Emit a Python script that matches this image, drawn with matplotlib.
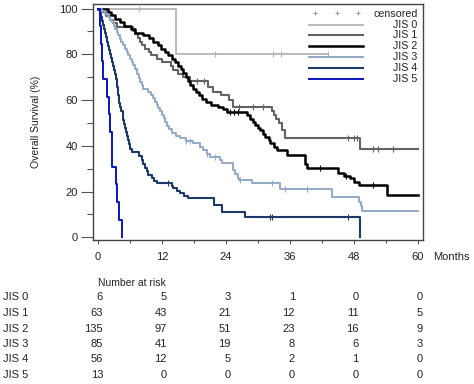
import numpy as np
import matplotlib.pyplot as plt
from matplotlib.transforms import blended_transform_factory

plt.rcParams['font.family'] = ['Liberation Sans', 'DejaVu Sans']

groups = ['JIS 0', 'JIS 1', 'JIS 2', 'JIS 3', 'JIS 4', 'JIS 5']
colors = ['#b4b4b4', '#636363', '#000000', '#93a9c6', '#1d3a66', '#0a14c0']
widths = [1.3, 1.5, 1.8, 1.4, 1.5, 1.4]

# Kaplan-Meier step points (time in months, survival in %)
jis0_t = [0, 14.6, 43.2]
jis0_s = [100, 80, 80]
jis0_c = [7.7, 22, 32.8, 34.4, 43.2]

jis1_t = [0, 1.0, 1.5, 2.2, 2.8, 3.5, 6.5, 7.0, 7.5, 7.9, 8.3, 8.8, 9.5, 10.0, 11.0,
          12.0, 13.6, 14.0, 15.1, 16.0, 17.3, 20.7, 21.5, 23.0, 24.5, 25.4, 32.6,
          33.0, 33.4, 33.9, 34.5, 35.1, 49.2, 60]
jis1_s = [100, 98.4, 96.8, 95.2, 93.6, 92.0, 90.4, 88.8, 87.2, 85.6, 84.0, 82.4, 81.0,
          79.6, 78.1, 76.7, 75.1, 73.3, 71.6, 70.1, 68.5, 65.5, 63.5, 62.0, 60.0, 57.0,
          55.0, 53.4, 51.6, 49.8, 46.8, 43.6, 38.8, 38.8]
jis1_c = [18.5, 19.8, 26.5, 29, 31, 47, 48, 48.6, 51.7, 52.6, 55.3]

jis2_t = [0, 1.8, 2.5, 3.2, 4.2, 4.8, 6.2, 7.0, 8.5, 9.5, 10.4, 11.2, 11.8, 12.6, 13.2,
          13.8, 14.5, 15.0, 15.5, 16.0, 16.5, 16.8, 17.3, 17.8, 18.3, 18.9, 19.5, 20.3,
          21.2, 22.5, 23.5, 24.2, 27.9, 28.5, 29.0, 29.5, 30.0, 30.4, 31.0, 31.4, 32.0,
          32.3, 33.0, 33.6, 35.4, 38.9, 39.2, 45.1, 46.2, 47.3, 48.0, 48.9, 54.2, 60]
jis2_s = [100, 98.5, 97, 95.5, 94, 92.5, 91, 89.5, 88.5, 87, 85.5, 84, 82.5, 81, 79.5,
          78, 76.5, 75, 73.5, 72, 70, 68.5, 66.5, 65, 63.5, 62, 60.5, 59.2,
          58, 57, 56, 54.8, 53.4, 51.9, 50.5, 49, 47.8, 46.8, 45.3, 43.9, 42.5,
          41, 39.5, 38.1, 35.9, 32, 30.5, 28, 27, 25.8, 24.3, 22.8, 18.5, 18.5]
jis2_c = [24.8, 25.5, 26.3, 41.7, 46.5, 51.7]

jis3_t = [0, 0.8, 1.3, 1.9, 2.3, 2.6, 2.9, 3.2, 3.5, 3.8, 4.1, 4.4, 4.75, 5.1, 5.4, 5.7,
          6.0, 6.3, 6.6, 7.0, 7.3, 7.6, 7.9, 8.2, 8.5, 9.45, 10.0, 10.4, 10.7, 11.0,
          11.3, 11.6, 12.0, 12.3, 12.6, 13.0, 13.4, 13.8, 14.6, 15.4, 16.6, 17.8, 19.2,
          19.7, 20.4, 21.0, 22.9, 23.2, 25.4, 25.8, 26.2, 26.4, 28.9, 34.2, 43.9, 48.9,
          49.3, 49.5, 60]
jis3_s = [100, 98.8, 97.6, 96.4, 95.2, 94, 92.5, 91, 89.8, 88.4, 86.9, 85.5, 84, 82.5,
          81.1, 79.6, 78.1, 76.6, 75.2, 73.4, 71.6, 69.8, 67.9, 66.5, 65, 63.6, 62.3,
          60.9, 59.3, 57.8, 56.4, 55, 53.5, 52, 50.3, 48.8, 47.2, 45.7, 44.4, 43.2, 41.9,
          41, 39.6, 38.1, 36.5, 35, 33.8, 32.3, 29.5, 27.5, 26, 25, 23.6, 21, 17.7, 15.5,
          13.5, 11.6, 11.6]
jis3_c = [16.6, 17.3, 20.4, 22, 26.7, 32.6, 35, 39.2]

jis4_t = [0, 0.3, 0.5, 0.7, 0.9, 1.1, 1.3, 1.5, 1.6, 1.8, 2.0, 2.2, 2.4, 2.6, 2.8, 2.9,
          3.1, 3.3, 3.5, 3.6, 3.7, 3.8, 3.9, 4.0, 4.2, 4.4, 4.6, 4.75, 4.9, 5.1, 5.3, 5.4,
          5.6, 5.8, 6.0, 6.3, 7.6, 8.2, 8.5, 8.8, 9.1, 9.45, 10.1, 10.5, 11.0, 13.8,
          14.1, 14.8, 15.4, 16.2, 16.9, 21.7, 23.2, 27.6, 49.2]
jis4_s = [100, 98.2, 96.4, 94.6, 92.8, 91, 89.2, 87.4, 85.6, 83.8, 82, 80.2, 78.4, 76.6,
          74.8, 73, 71.2, 69.4, 67.6, 65.8, 64, 62.2, 60.4, 58.6, 56.8, 55, 53.2, 51.4,
          49.6, 47.8, 46, 44.2, 42.4, 40.6, 38.8, 37.4, 35.6, 33.8, 32, 30.5, 29, 27.2,
          25.8, 24.6, 23.6, 22.4, 21.4, 20.2, 19.2, 18.1, 17, 14.1, 11.2, 8.7, 0]
jis4_c = [13.2, 32.3, 32.6, 47]

jis5_t = [0, 0.3, 0.6, 0.8, 1.0, 1.6, 2.0, 2.3, 2.6, 2.7, 3.3, 3.6, 3.9, 4.45]
jis5_s = [100, 92.3, 84.6, 76.9, 69.2, 61.5, 53.8, 46.2, 38.5, 30.8, 23.1, 15.4, 7.7, 0]
jis5_c = []

curve_t = [jis0_t, jis1_t, jis2_t, jis3_t, jis4_t, jis5_t]
curve_s = [jis0_s, jis1_s, jis2_s, jis3_s, jis4_s, jis5_s]
curve_c = [jis0_c, jis1_c, jis2_c, jis3_c, jis4_c, jis5_c]

risk_times = [0, 12, 24, 36, 48, 60]
risk_jis0 = [6, 5, 3, 1, 0, 0]
risk_jis1 = [63, 43, 21, 12, 11, 5]
risk_jis2 = [135, 97, 51, 23, 16, 9]
risk_jis3 = [85, 41, 19, 8, 6, 3]
risk_jis4 = [56, 12, 5, 2, 1, 0]
risk_jis5 = [13, 0, 0, 0, 0, 0]
risk = [risk_jis0, risk_jis1, risk_jis2, risk_jis3, risk_jis4, risk_jis5]

FS = 8
W, H = 474, 384
fig = plt.figure(figsize=(W / 100, H / 100), dpi=100)
ax = fig.add_axes([93 / W, 1 - 240 / H, 330 / W, 236 / H])

for t, s, c, col, lw in zip(curve_t, curve_s, curve_c, colors, widths):
    ax.step(t, s, where='post', color=col, lw=lw)
    if c:
        idx = np.searchsorted(t, c, side='right') - 1
        ax.plot(c, np.array(s)[idx], ls='none', marker='|', ms=4, mew=0.8, color=col)

ax.set_xlim(-0.95, 61)
ax.set_ylim(-1.2, 102)
ax.set_xticks(risk_times)
ax.set_xticks(np.arange(6, 60, 12), minor=True)
ax.set_yticks(np.arange(0, 101, 20))
ax.set_yticks(np.arange(10, 100, 20), minor=True)
ax.tick_params(axis='y', which='major', length=9, width=0.8, colors='#555555',
               labelcolor='#222222', labelsize=FS, pad=2)
ax.tick_params(axis='y', which='minor', length=4.5, width=0.8, colors='#555555')
ax.tick_params(axis='x', which='major', length=3, width=0.8, colors='#555555',
               labelcolor='#222222', labelsize=FS, pad=5.5)
ax.tick_params(axis='x', which='minor', length=2.5, width=0.8, colors='#555555')
for sp in ax.spines.values():
    sp.set_color('#444444')
    sp.set_linewidth(1.0)
ax.set_ylabel('Overall Survival (%)', fontsize=7.5, color='#222222', labelpad=13)
fig.text(433 / W, 1 - 256.5 / H, 'Months', fontsize=FS, color='#222222', va='center')

# legend drawn in axes coordinates
ax_w, ax_h = 330, 236
def ax_xy(px, py):
    return (px - 93) / ax_w, (240 - py) / ax_h

lx0, lx1 = ax_xy(309, 0)[0], ax_xy(363, 0)[0]
tx = ax_xy(417.5, 0)[0]
cy = ax_xy(0, 14)[1]
ax.plot([ax_xy(315, 0)[0], ax_xy(336.7, 0)[0], ax_xy(358.3, 0)[0]], [cy + 0.006] * 3,
        ls='none', marker='+', ms=3.5, mew=0.6, color='#888888', transform=ax.transAxes)
ax.text(tx, cy, 'censored', transform=ax.transAxes, ha='right', va='center',
        fontsize=7.7, color='#222222')
for i, (g, col, lw) in enumerate(zip(groups, colors, widths)):
    ly = ax_xy(0, 24.5 + i * 10.9)[1]
    ax.plot([lx0, lx1], [ly, ly], color=col, lw=lw, transform=ax.transAxes)
    ax.text(tx, ly, g, transform=ax.transAxes, ha='right', va='center',
            fontsize=7.7, color='#222222')

# number at risk table
tr = blended_transform_factory(ax.transData, fig.transFigure)
ax.text(0, 1 - 283.5 / H, 'Number at risk', transform=tr, ha='left', va='center',
        fontsize=7.5, color='#222222')
row_y = [297.5, 313, 328.5, 344, 359.5, 375]
for g, r, y in zip(groups, risk, row_y):
    fig.text(3 / W, 1 - y / H, g, ha='left', va='center', fontsize=FS, color='#222222')
    for t, n in zip(risk_times, r):
        ax.text(t + 0.95, 1 - y / H, str(n), transform=tr, ha='right', va='center',
                fontsize=FS, color='#222222')

fig.savefig('out.png', dpi=100)
